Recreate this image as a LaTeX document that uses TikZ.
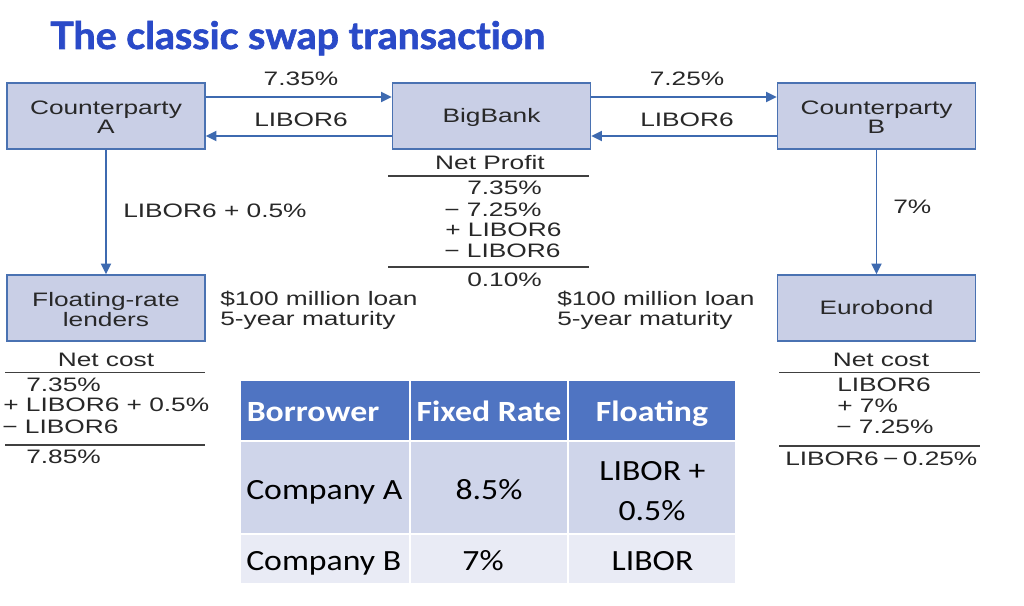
\documentclass[tikz,border=0pt]{standalone}
\usepackage{fontspec}
\usepackage{graphicx}
\setmainfont{Liberation Sans}
\newfontfamily\titlefont{Lato}[Ligatures=NoCommon, BoldFeatures={FakeBold=1.6}]
\newfontfamily\calib{Carlito}
\usetikzlibrary{arrows.meta}
\definecolor{boxfill}{RGB}{201,207,230}
\definecolor{boxdraw}{RGB}{74,114,178}
\definecolor{arrowc}{RGB}{62,106,176}
\definecolor{titlec}{RGB}{42,74,200}
\definecolor{txt}{RGB}{40,40,40}
\definecolor{hdr}{RGB}{79,116,194}
\definecolor{rowa}{RGB}{207,213,234}
\definecolor{rowb}{RGB}{233,235,245}
\newcommand\hs[1]{\scalebox{1.35}[1]{#1}}
\newcommand\tsc[1]{\scalebox{1.15}[1]{#1}}
\newcommand\mn{\char"2212}
\begin{document}
\begin{tikzpicture}[x=0.75pt,y=-0.75pt,
  lbl/.style={text=txt, font=\fontsize{14.6}{15.75}\selectfont, inner sep=0, anchor=base},
  lblw/.style={lbl, anchor=base west},
  box/.style={draw=boxdraw, fill=boxfill, line width=1.2pt, minimum width=148.5pt,
    minimum height=49.5pt, inner sep=0, align=center, text=txt,
    font=\fontsize{14.6}{14.3}\selectfont},
  oneline/.style={text height=10.5pt, text depth=0.5pt},
  twoline/.style={text height=27pt, text depth=0pt},
  flow/.style={draw=arrowc, line width=1.4pt, -{Triangle[length=8pt,width=7.5pt]}},
  rulel/.style={draw=black!75, line width=0.8pt},
  th/.style={text=white, font=\calib\bfseries\fontsize{22}{24}\selectfont, inner sep=0},
  td/.style={text=black, font=\calib\fontsize{22}{24}\selectfont, inner sep=0}]
\path[use as bounding box, fill=white] (0,0) rectangle (1024,606);

% title
\node[anchor=base west, inner sep=0, text=titlec, font=\titlefont\bfseries\fontsize{28.3}{30}\selectfont]
  (title) at (50,49) {\resizebox{371.25pt}{\height}{The classic swap transaction}};

% boxes
\node[box, twoline] (A)  at (106,116)   {\hs{Counterparty}\\\hs{A}};
\node[box, oneline] (BB) at (491.5,116) {\hs{BigBank}};
\node[box, twoline] (B)  at (876.5,116) {\hs{Counterparty}\\\hs{B}};
\node[box, twoline] (FL) at (106,308)   {\hs{Floating-rate}\\\hs{lenders}};
\node[box, oneline] (EB) at (876.5,308) {\hs{Eurobond}};

% connectors
\draw[flow] ([yshift=14.25pt]A.east) -- ([yshift=14.25pt]BB.west);
\draw[flow] ([yshift=-15pt]BB.west) -- ([yshift=-15pt]A.east);
\draw[flow] ([yshift=14.25pt]BB.east) -- ([yshift=14.25pt]B.west);
\draw[flow] ([yshift=-15pt]B.west) -- ([yshift=-15pt]BB.east);
\draw[flow] (A.south) -- (FL.north);
\draw[flow] (B.south) -- (EB.north);

% arrow labels
\node[lbl] (l1) at (301,86)  {\hs{7.35\%}};
\node[lbl] (l2) at (301,127) {\hs{LIBOR6}};
\node[lbl] (l3) at (687,86)  {\hs{7.25\%}};
\node[lbl] (l4) at (687,127) {\hs{LIBOR6}};
\node[lblw] (l5) at (123,217) {\hs{LIBOR6 + 0.5\%}};
\node[lblw] (l6) at (893,214) {\hs{7\%}};

% loan notes
\node[lblw] (n1) at (220,305) {\hs{\$100 million loan}};
\node[lblw] (n2) at (220,325) {\hs{5-year maturity}};
\node[lblw] (n3) at (557,305) {\hs{\$100 million loan}};
\node[lblw] (n4) at (557,325) {\hs{5-year maturity}};

% net profit
\node[lbl] (np) at (490,170) {\hs{Net Profit}};
\draw[rulel] (388,176) -- (589,176);
\node[lblw] (np1) at (467,195) {\hs{7.35\%}};
\node[lblw] (np2) at (444,216.5) {\hs{\mn\ 7.25\%}};
\node[lblw] (np3) at (445,236.5) {\hs{+ LIBOR6}};
\node[lblw] (np4) at (444,257) {\hs{\mn\ LIBOR6}};
\draw[rulel] (388,267) -- (589,267);
\node[lblw] (np5) at (467,286.5) {\hs{0.10\%}};

% net cost A
\node[lbl] (ca) at (106,366.5) {\hs{Net cost}};
\draw[rulel] (5,372.5) -- (205,372.5);
\node[lblw] (ca1) at (26,391) {\hs{7.35\%}};
\node[lblw] (ca2) at (3,411.5) {\hs{+ LIBOR6 + 0.5\%}};
\node[lblw] (ca3) at (2,433) {\hs{\mn\ LIBOR6}};
\draw[rulel] (5,445) -- (205,445);
\node[lblw] (ca4) at (26,463) {\hs{7.85\%}};

% net cost B
\node[lbl] (cb) at (881,366.5) {\hs{Net cost}};
\draw[rulel] (779,372.5) -- (980,372.5);
\node[lblw] (cb1) at (837,391.5) {\hs{LIBOR6}};
\node[lblw] (cb2) at (837,412.5) {\hs{+ 7\%}};
\node[lblw] (cb3) at (836,433) {\hs{\mn\ 7.25\%}};
\draw[rulel] (779,446) -- (980,446);
\node[lblw] (cb4) at (785,465) {\hs{LIBOR6\,\mn\,0.25\%}};

% table
\fill[hdr]  (241,381) rectangle (735,441);
\fill[rowa] (241,441) rectangle (735,534);
\fill[rowb] (241,534) rectangle (735,583);
\draw[white, line width=1.8pt] (410,381) -- (410,583) (568,381) -- (568,583)
  (241,441) -- (735,441) (241,534) -- (735,534);
\node[th, anchor=base west] (t11) at (246.5,421.5) {\tsc{Borrower}};
\node[th, anchor=base] (t12) at (489,421.5) {\tsc{Fixed Rate}};
\node[th, anchor=base] (t13) at (652,421.5) {\tsc{Floating}};
\node[td, anchor=base west] (t21) at (246,499) {\tsc{Company A}};
\node[td, anchor=base] (t22) at (489,499) {\tsc{8.5\%}};
\node[td, anchor=base] (t23) at (652.5,480) {\tsc{LIBOR +}};
\node[td, anchor=base] (t23b) at (652,520) {\tsc{0.5\%}};
\node[td, anchor=base west] (t31) at (246,570) {\tsc{Company B}};
\node[td, anchor=base] (t32) at (483,570) {\tsc{7\%}};
\node[td, anchor=base] (t33) at (652.5,570) {\tsc{LIBOR}};
\end{tikzpicture}
\end{document}
